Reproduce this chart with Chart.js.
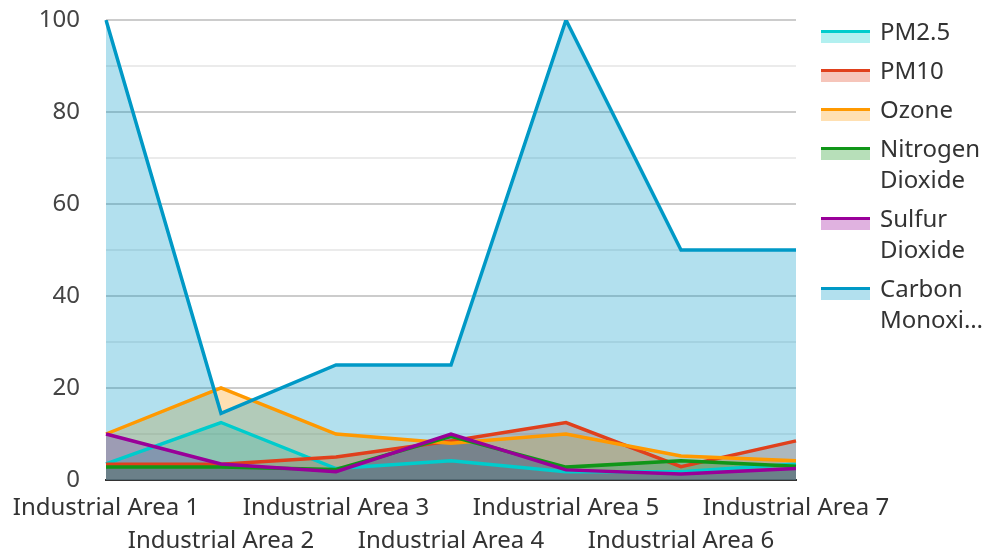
<!DOCTYPE html>
<html>
<head>
<meta charset="utf-8">
<script src="https://cdn.jsdelivr.net/npm/chart.js@4.4.1/dist/chart.umd.min.js"></script>
<style>
  html, body { margin: 0; padding: 0; background: #fff; }
  #wrap { position: relative; width: 986px; height: 551px; }
  #legend { position: absolute; left: 821px; top: 15px; font-family: "Noto Sans", sans-serif; font-size: 24px; line-height: 31px; color: #333; }
  .item { position: relative; padding-left: 59px; margin-bottom: 8px; white-space: nowrap; }
  .box { position: absolute; left: 0; top: 15px; width: 49px; height: 10px; border-top: 3px solid; }
</style>
</head>
<body>
<div id="wrap">
  <canvas id="chart" width="986" height="551"></canvas>
  <div id="legend"></div>
</div>
<script>
const categories = ["Industrial Area 1", "Industrial Area 2", "Industrial Area 3", "Industrial Area 4", "Industrial Area 5", "Industrial Area 6", "Industrial Area 7"];
const seriesNames = ["PM2.5", "PM10", "Ozone", "Nitrogen Dioxide", "Sulfur Dioxide", "Carbon Monoxide"];
const pm25 = [3.5, 12.5, 2.5, 4.2, 1.8, 1.8, 3.5];
const pm10 = [3.4, 3.4, 5, 8.5, 12.5, 2.9, 8.5];
const ozone = [10, 20, 10, 8, 10, 5.2, 4.2];
const no2 = [2.8, 2.8, 2.3, 9.5, 2.8, 4.2, 3];
const so2 = [10, 3.5, 1.8, 10, 2.2, 1.3, 2.5];
const co = [100, 14.5, 25, 25, 100, 50, 50];
const yTicks = [0, 20, 40, 60, 80, 100];

const colors = ["#00cccc", "#e0401c", "#ff9900", "#109618", "#990099", "#0099c6"];
const seriesData = [pm25, pm10, ozone, no2, so2, co];

function fade(hex, a) {
  const n = parseInt(hex.slice(1), 16);
  return `rgba(${n >> 16}, ${(n >> 8) & 255}, ${n & 255}, ${a})`;
}

const fontFamily = '"Noto Sans", sans-serif';

// later series sit on top (order: lower = drawn later)
const datasets = seriesNames.map((name, i) => ({
  label: name,
  data: seriesData[i],
  borderColor: colors[i],
  backgroundColor: fade(colors[i], 0.3),
  borderWidth: 3.5,
  fill: "origin",
  pointRadius: 0,
  tension: 0,
  order: seriesNames.length - i,
}));

new Chart(document.getElementById("chart"), {
  type: "line",
  data: { labels: categories, datasets },
  options: {
    responsive: false,
    animation: false,
    layout: { padding: { top: 20, right: 190, left: 0, bottom: 0 } },
    plugins: {
      legend: { display: false },
      tooltip: { enabled: false },
      filler: { drawTime: "beforeDatasetsDraw" },
    },
    scales: {
      x: {
        grid: { display: false },
        border: { display: true, color: "#333", width: 2 },
        ticks: {
          autoSkip: false,
          maxRotation: 0,
          padding: 4,
          color: "#333",
          font: { family: fontFamily, size: 24, lineHeight: 1.375 },
          callback: (v, i) => (i % 2 === 1 ? ["", categories[i]] : categories[i]),
        },
        afterFit: (s) => { s.height = 71; },
      },
      y: {
        min: 0,
        max: 100,
        border: { display: false },
        grid: {
          drawTicks: false,
          color: (c) => (c.tick.value % 20 === 0 ? "#cccccc" : "#ebebeb"),
          lineWidth: 2,
        },
        ticks: {
          stepSize: 10,
          padding: 26,
          color: "#444",
          font: { family: fontFamily, size: 24 },
          callback: (v) => (yTicks.includes(v) ? String(v) : ""),
        },
        afterFit: (s) => {
          s.width = 106;
          s.paddingTop = 0;
          s.paddingBottom = 0;
        },
      },
    },
  },
});

// Legend: wrap names word by word, cut long words with an ellipsis
const measure = document.createElement("canvas").getContext("2d");
measure.font = "24px " + fontFamily;
function fitWord(w, max) {
  if (measure.measureText(w).width <= max) return w;
  let s = w;
  while (s.length > 1 && measure.measureText(s + "…").width > max) s = s.slice(0, -1);
  return s + "…";
}
const legend = document.getElementById("legend");
seriesNames.forEach((name, i) => {
  const item = document.createElement("div");
  item.className = "item";
  const box = document.createElement("span");
  box.className = "box";
  box.style.borderTopColor = colors[i];
  box.style.background = fade(colors[i], 0.3);
  item.appendChild(box);
  const words = name.split(" ").map((w) => fitWord(w, 104));
  item.appendChild(document.createTextNode(words[0]));
  words.slice(1).forEach((w) => {
    item.appendChild(document.createElement("br"));
    item.appendChild(document.createTextNode(w));
  });
  legend.appendChild(item);
});
</script>
</body>
</html>
